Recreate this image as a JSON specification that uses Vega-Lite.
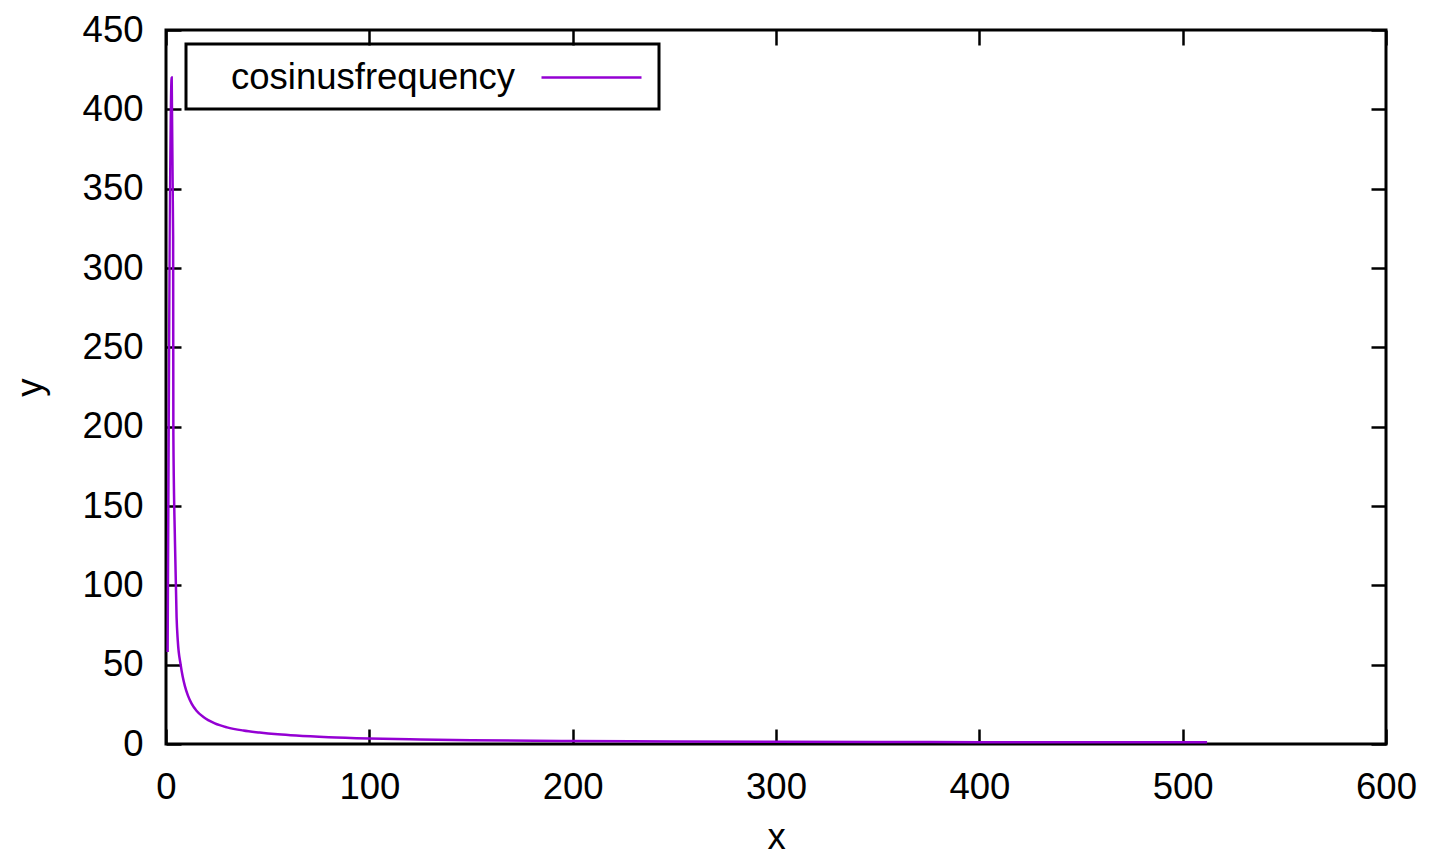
{
  "$schema": "https://vega.github.io/schema/vega-lite/v6.json",
  "width": 1220,
  "height": 714,
  "autosize": {"type": "none"},
  "padding": {"left": 166, "top": 30, "right": 50, "bottom": 115},
  "background": "white",
  "config": {
    "view": {"stroke": "black", "strokeWidth": 3},
    "font": "Liberation Sans",
    "axis": {
      "domain": false,
      "grid": false,
      "tickColor": "black",
      "tickWidth": 2.5,
      "tickSize": -15,
      "labelFlush": false,
      "labelFont": "Liberation Sans",
      "labelFontSize": 36.5,
      "labelColor": "black",
      "titleFont": "Liberation Sans",
      "titleFontSize": 36.5,
      "titleFontWeight": "normal",
      "titleColor": "black"
    }
  },
  "data": {
    "values": [
      {"x": 0.8, "y": 58, "series": "cosinus_frequency"},
      {"x": 2.8, "y": 420, "series": "cosinus_frequency"},
      {"x": 3.5, "y": 320, "series": "cosinus_frequency"},
      {"x": 3.62, "y": 195, "series": "cosinus_frequency"},
      {"x": 4.4, "y": 128, "series": "cosinus_frequency"},
      {"x": 5.2, "y": 80, "series": "cosinus_frequency"},
      {"x": 5.8, "y": 65, "series": "cosinus_frequency"},
      {"x": 7.2, "y": 50, "series": "cosinus_frequency"},
      {"x": 8.2, "y": 42.5, "series": "cosinus_frequency"},
      {"x": 9.3, "y": 36.5, "series": "cosinus_frequency"},
      {"x": 10.8, "y": 30.5, "series": "cosinus_frequency"},
      {"x": 12.6, "y": 25.5, "series": "cosinus_frequency"},
      {"x": 15, "y": 21, "series": "cosinus_frequency"},
      {"x": 18.4, "y": 17, "series": "cosinus_frequency"},
      {"x": 24, "y": 13, "series": "cosinus_frequency"},
      {"x": 30, "y": 10.5, "series": "cosinus_frequency"},
      {"x": 38, "y": 8.5, "series": "cosinus_frequency"},
      {"x": 46, "y": 7.2, "series": "cosinus_frequency"},
      {"x": 55, "y": 6.1, "series": "cosinus_frequency"},
      {"x": 64, "y": 5.3, "series": "cosinus_frequency"},
      {"x": 80, "y": 4.3, "series": "cosinus_frequency"},
      {"x": 100, "y": 3.5, "series": "cosinus_frequency"},
      {"x": 125, "y": 2.85, "series": "cosinus_frequency"},
      {"x": 150, "y": 2.4, "series": "cosinus_frequency"},
      {"x": 200, "y": 1.9, "series": "cosinus_frequency"},
      {"x": 250, "y": 1.6, "series": "cosinus_frequency"},
      {"x": 300, "y": 1.4, "series": "cosinus_frequency"},
      {"x": 350, "y": 1.27, "series": "cosinus_frequency"},
      {"x": 400, "y": 1.18, "series": "cosinus_frequency"},
      {"x": 450, "y": 1.12, "series": "cosinus_frequency"},
      {"x": 512, "y": 1.08, "series": "cosinus_frequency"}
    ]
  },
  "layer": [
    {
      "mark": {"type": "line", "strokeWidth": 2.5, "interpolate": "monotone"},
      "encoding": {
        "x": {
          "field": "x", "type": "quantitative",
          "scale": {"domain": [0, 600], "nice": false, "zero": false},
          "axis": {"orient": "bottom", "values": [0, 100, 200, 300, 400, 500, 600], "title": "x", "labelPadding": 40, "titlePadding": 14}
        },
        "y": {
          "field": "y", "type": "quantitative",
          "scale": {"domain": [0, 450], "nice": false, "zero": false},
          "axis": {"orient": "left", "values": [0, 50, 100, 150, 200, 250, 300, 350, 400, 450], "title": "y", "labelPadding": 38, "titlePadding": 33}
        },
        "color": {
          "field": "series", "type": "nominal",
          "scale": {"range": ["#9400d3"]},
          "legend": {
            "title": "\u00a0\u00a0\u00a0cosinusfrequency",
            "titleOrient": "left",
            "titleFont": "Liberation Sans",
            "titleFontSize": 36.5,
            "titleFontWeight": "normal",
            "titleColor": "black",
            "titlePadding": 37,
            "titleLimit": 700,
            "orient": "none",
            "legendX": 20,
            "legendY": 14,
            "symbolType": "M0,0H5",
            "symbolSize": 1600,
            "symbolStrokeWidth": 2.5,
            "labelExpr": "''",
            "labelOffset": 0,
            "strokeColor": "black",
            "padding": 12,
            "encode": {
              "legend": {"update": {"strokeWidth": {"value": 3}}},
              "title": {"update": {"dy": {"value": 9}, "dx": {"value": 33}}}
            }
          }
        }
      }
    },
    {
      "mark": {"type": "line", "opacity": 0},
      "encoding": {
        "x": {
          "field": "x", "type": "quantitative",
          "axis": {"orient": "top", "values": [0, 100, 200, 300, 400, 500, 600], "labels": false, "title": null}
        },
        "y": {
          "field": "y", "type": "quantitative",
          "axis": {"orient": "right", "values": [0, 50, 100, 150, 200, 250, 300, 350, 400, 450], "labels": false, "title": null}
        }
      }
    }
  ],
  "resolve": {"axis": {"x": "independent", "y": "independent"}}
}
